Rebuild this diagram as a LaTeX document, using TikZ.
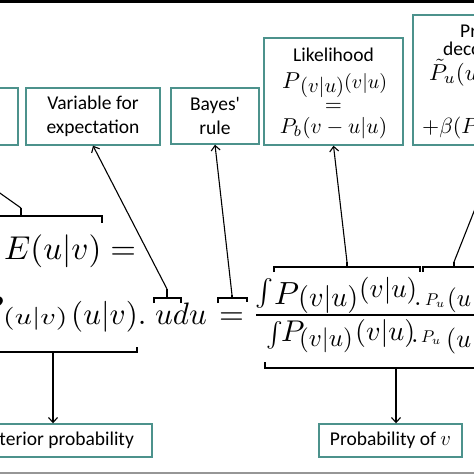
\documentclass[tikz,border=0pt]{standalone}
\usepackage{graphicx}
\usepackage{fontspec}
\newfontfamily\carl{Carlito}
\usetikzlibrary{arrows.meta}
\newcommand{\Ms}[2]{\scalebox{#1}{$#2$}}
\definecolor{boxteal}{RGB}{76,146,140}
\definecolor{bargray}{RGB}{150,150,150}
\tikzset{
  lbl/.style={draw=boxteal, line width=1.4pt, rectangle, inner sep=0pt},
  btxt/.style={font=\carl\fontsize{19.5}{23.5}\selectfont, align=center},
  ltxt/.style={font=\carl\fontsize{19.5}{23.5}\selectfont, inner sep=0pt, anchor=base},
  conn/.style={line width=1.1pt, -{Straight Barb[length=5pt,width=9pt,line width=1.1pt]}},
  brk/.style={line width=1.2pt},
  mt/.style={inner sep=0pt, anchor=base west},
  mc/.style={inner sep=0pt, anchor=base},
}
\begin{document}
\begin{tikzpicture}[x=1pt,y=-1pt]
\useasboundingbox (0,0) rectangle (474,474);
\clip (0,0) rectangle (474,474);
\fill[white] (0,0) rectangle (474,474);
% frame bars
\fill[black] (0,0) rectangle (474,2.7);
\fill[bargray] (0,471.5) rectangle (474,474);

% ---- top boxes
\node[lbl, minimum width=170pt, minimum height=57pt] (leftbox) at (-67,116.5) {};
\node[lbl, btxt, minimum width=134pt, minimum height=57pt] (var) at (93,116.5) {Variable for\\expectation};
\node[lbl, btxt, minimum width=88pt, minimum height=56pt] (bayes) at (215,116) {Bayes'\\rule};
\node[lbl, minimum width=139pt, minimum height=107pt] (lik) at (333.5,91.5) {};
\node[lbl, minimum width=174pt, minimum height=130pt] (prior) at (500,80) {};

% likelihood text
\node[ltxt] (likt) at (333.5,61) {Likelihood};
\node[mt] (lik1) at (282,88) {\Ms{2.3}{P}\raisebox{-4pt}{\Ms{2.05}{(v|u)}}\Ms{2.0}{(v|u)}};
\node[mc] (lik2) at (333.5,111) {\Ms{2.2}{=}};
\node[mc] (lik3) at (333.5,133) {\Ms{2.15}{P_b(v-u|u)}};

% prior text (clipped)
\node[ltxt, anchor=base west] (pr1) at (460,37) {Prior};
\node[ltxt, anchor=base west] (pr2) at (443,55) {decoupled};
\node[mt] (pr3) at (429,80) {\Ms{2.3}{\tilde{P}_u(u)}};
\node[mt] (pr4) at (422,133) {\Ms{2.2}{+\beta(P'_v(v)}};

% ---- bottom boxes
\node[lbl, ltxt, anchor=center, minimum width=198pt, minimum height=33pt] (post) at (53,440.5) {Posterior probability};
\node[lbl, ltxt, anchor=center, minimum width=143pt, minimum height=33pt] (prob) at (390.5,440.5) {Probability of $v$};

% ---- formula, left part
\node[mt] (eq1) at (4,259) {\Ms{3.3}{E(u|v)=}};
\node[mt, anchor=base east] (pP) at (4,317) {\Ms{3.1}{P}};
\node[mt] (sub1) at (3,324.5) {\scalebox{3.0}[2.3]{$(u|v)$}};
\node[mt] (arg1) at (71,324) {\Ms{3.1}{(u|v).}};
\node[mt] (udu) at (155,324) {\Ms{3.1}{udu}};
\node[mt] (eq2) at (219,324) {\Ms{3.2}{=}};

% ---- fraction, numerator
\node[mt] (nint) at (255,300) {\Ms{2.7}{\int}};
\node[mt] (nP) at (274,304) {\Ms{3.2}{P}};
\node[mt] (nsub) at (298,306) {\Ms{2.8}{(v|u)}};
\node[mt] (narg) at (359,297) {\Ms{2.7}{(v|u)}};
\node[mt] (ndot) at (414,305) {\Ms{2.7}{.}};
\node[mt] (nPu) at (425,305) {\Ms{1.7}{P_u}};
\node[mt] (nu) at (447,306) {\Ms{2.5}{(u}};
% fraction bar
\draw[line width=1.2pt] (256,315) -- (480,315);
% denominator
\node[mt] (dint) at (266,342) {\Ms{2.5}{\int}};
\node[mt] (dP) at (281,341) {\Ms{3.0}{P}};
\node[mt] (dsub) at (299,346) {\Ms{2.5}{(v|u)}};
\node[mt] (darg) at (355,340) {\Ms{2.8}{(v|u)}};
\node[mt] (ddot) at (411,342) {\Ms{2.7}{.}};
\node[mt] (dPu) at (421,342) {\Ms{1.7}{P_u}};
\node[mt] (du) at (446,347) {\Ms{2.6}{(u}};

% ---- brackets and tick points
\coordinate (tkE) at (21,208);
\draw[brk] (-10,216) -- (102,216) -- (102,223);
\draw[brk] (21,216) -- (tkE);

\coordinate (tkU) at (167,289);
\draw[brk] (154,303) -- (154,298) -- (181,298) -- (181,303);
\draw[brk] (167,298) -- (tkU);

\coordinate (tkEq) at (232,295);
\draw[brk] (218,303) -- (218,298) -- (247,298) -- (247,302);
\draw[brk] (232,298) -- (tkEq);

\coordinate (tkN) at (347,262);
\draw[brk] (274,272) -- (274,267) -- (420,267) -- (420,272);
\draw[brk] (347,267) -- (tkN);

\coordinate (tkPr) at (454,262);
\draw[brk] (423,272) -- (423,267) -- (490,267);
\draw[brk] (454,267) -- (tkPr);

\coordinate (tkPost) at (53,352);
\draw[brk] (-10,352) -- (137,352) -- (137,347);

\coordinate (tkProb) at (396,368);
\draw[brk] (265,362) -- (265,368) -- (490,368);

% ---- connectors
\draw[conn] (tkE) -- (leftbox.south);
\draw[conn] (tkU) -- (var.south);
\draw[conn] (tkEq) -- (bayes.south);
\draw[conn] (tkN) -- (lik.south);
\draw[conn] (tkPr) -- (prior.south);
\draw[conn] (tkPost) -- (post.north);
\draw[conn] (tkProb) -- (tkProb |- prob.north);
\end{tikzpicture}
\end{document}
